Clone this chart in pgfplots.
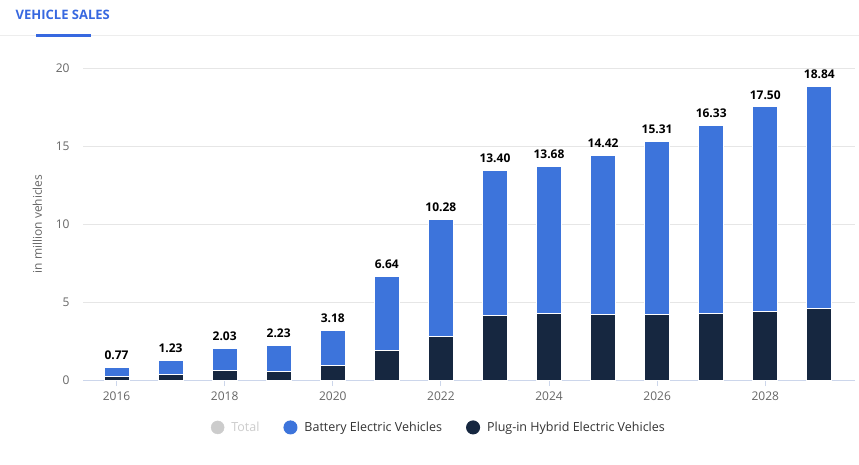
\documentclass[border=0pt]{standalone}
\usepackage{fontspec}
\setmainfont{Open Sans}
\usepackage{pgfplots}
\pgfplotsset{compat=1.18}
\usepackage{pgfplotstable}

\definecolor{bev}{RGB}{61,116,219}
\definecolor{phev}{RGB}{22,39,64}
\definecolor{totalgray}{RGB}{204,204,204}
\definecolor{titleblue}{RGB}{55,104,224}
\definecolor{gridcol}{RGB}{230,230,230}
\definecolor{axiscol}{RGB}{204,214,235}
\definecolor{ticktext}{RGB}{102,102,102}
\definecolor{legtext}{RGB}{51,51,51}

% sales in million vehicles
\pgfplotstableread{
year phev bev total
2016 0.21 0.56 0.77
2017 0.34 0.89 1.23
2018 0.62 1.41 2.03
2019 0.56 1.67 2.23
2020 0.94 2.24 3.18
2021 1.90 4.74 6.64
2022 2.78 7.50 10.28
2023 4.15 9.25 13.40
2024 4.27 9.41 13.68
2025 4.21 10.21 14.42
2026 4.21 11.10 15.31
2027 4.27 12.06 16.33
2028 4.40 13.10 17.50
2029 4.57 14.27 18.84
}\sales

\begin{document}
\begin{tikzpicture}[x=1pt,y=1pt]
\path[use as bounding box, fill=white] (0,0) rectangle (859,-465);
% header
\draw[gridcol!70!white, line width=1pt] (0,-35.5) -- (859,-35.5);
\fill[titleblue] (36,-34.5) rectangle (91,-37.5);
\node[anchor=base west, inner sep=0pt, text=titleblue,
      font=\fontsize{13}{15}\selectfont\bfseries] at (15.5,-19.5) {VEHICLE SALES};

\begin{axis}[
    at={(83pt,-380pt)}, anchor=south west,
    scale only axis, width=772pt, height=312pt,
    ybar stacked, bar width=25pt,
    xmin=2015.38, xmax=2029.66,
    ymin=0, ymax=20,
    xtick={2016,2018,...,2028},
    ytick={0,5,...,20},
    x tick label style={/pgf/number format/1000 sep={}, yshift=-2pt},
    /pgf/number format/assume math mode=true,
    tick label style={font=\fontsize{12}{14}\selectfont, text=ticktext},
    axis x line*=bottom,
    axis y line*=left,
    x axis line style={axiscol, line width=1pt, -},
    y axis line style={draw=none},
    xtick style={axiscol, line width=1pt},
    ytick style={draw=none},
    major tick length=6pt,
    tick align=outside,
    ymajorgrids, grid style={gridcol, line width=0.8pt},
    yticklabel style={xshift=-4pt},
    ylabel={in million vehicles},
    ylabel style={font=\fontsize{12}{14}\selectfont, text=ticktext, yshift=7pt},
    legend columns=3, reverse legend,
    legend style={draw=none, fill=none, at={(0.461,-0.152)}, anchor=center,
        font=\fontsize{12.5}{15}\selectfont, text=legtext,
        /tikz/every odd column/.append style={column sep=5pt},
        /tikz/every even column/.append style={column sep=22pt}},
]
\addplot+[fill=phev, draw=white, line width=1pt,
    legend image code/.code={\fill[phev] (0pt,0pt) circle (6.5pt);}]
    table[x=year, y=phev] {\sales};
\addlegendentry{Plug-in Hybrid Electric Vehicles}
\addplot+[fill=bev, draw=white, line width=1pt,
    point meta=\thisrow{total},
    visualization depends on={\thisrow{bev} \as \bevh},
    nodes near coords,
    nodes near coords style={font=\fontsize{12}{14}\selectfont\bfseries, text=black,
        anchor=south, yshift={\bevh*7.8pt+4pt},
        /pgf/number format/.cd, fixed, fixed zerofill, precision=2, assume math mode=true},
    legend image code/.code={\fill[bev] (0pt,0pt) circle (6.5pt);}]
    table[x=year, y=bev] {\sales};
\addlegendentry{Battery Electric Vehicles}
\addlegendimage{legend image code/.code={\fill[totalgray] (0pt,0pt) circle (6.5pt);}}
\addlegendentry{\textcolor{totalgray}{Total}}
\end{axis}
\end{tikzpicture}
\end{document}
